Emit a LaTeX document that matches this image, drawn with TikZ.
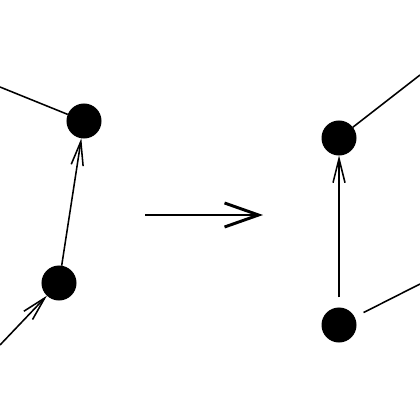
\documentclass[tikz,border=0pt]{standalone}
\usepackage{tikz}
\usetikzlibrary{arrows.meta}

\begin{document}
\begin{tikzpicture}[x=0.025cm, y=-0.025cm,
    dot/.style={circle, fill=black, inner sep=0pt, outer sep=0pt, minimum size=0.875cm},
    edge/.style={line width=1.1pt},
    barb/.style={edge, -{Straight Barb[length=0.6cm, width=0.3cm, line width=1.1pt]}},
    bigarrow/.style={line width=2.1pt, -{Straight Barb[length=0.85cm, width=0.6cm, line width=2.1pt]}}]

    \useasboundingbox (0,0) rectangle (420,420);

    % =================================================================
    % 1. HINH BEN TRAI
    % =================================================================
    \node[dot] (La) at (84,121) {};
    \node[dot] (Lb) at (59,283) {};
    \coordinate (La0) at (0,87);
    \coordinate (Lb0) at (0,345);

    \draw[edge] (La0) -- (La);
    \draw[barb] (Lb0) -- (Lb);
    \draw[barb] (Lb) -- (La);

    % =================================================================
    % 2. MUI TEN O GIUA
    % =================================================================
    \coordinate (M1) at (145,215);
    \coordinate (M2) at (263,215);
    \draw[bigarrow] (M1) -- (M2);

    % =================================================================
    % 3. HINH BEN PHAI
    % =================================================================
    \node[dot] (Ra) at (339,138) {};
    \node[dot] (Rb) at (339,325) {};
    \coordinate (Ra0) at (420,75);
    \coordinate (Rb0) at (420,284);

    \draw[edge] (Ra) -- (Ra0);
    \draw[edge, shorten <=0.25cm] (Rb) -- (Rb0);
    \draw[barb, shorten <=0.25cm] (Rb) -- (Ra);

\end{tikzpicture}
\end{document}
